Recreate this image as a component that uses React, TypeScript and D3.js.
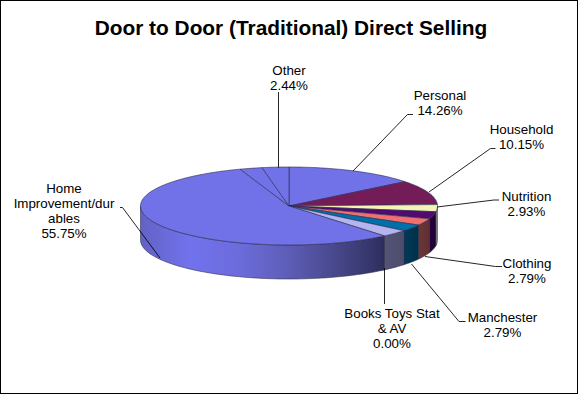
import React from "react";
import * as d3 from "d3";

const title = "Door to Door (Traditional) Direct Selling";

const sliceNames = ["Personal", "Household", "Nutrition", "Unlabelled A", "Clothing", "Manchester", "Books Toys Stat & AV", "Home Improvement/durables", "Other", "Unlabelled B"];
const sliceValues = [14.26, 10.15, 2.93, 3.0, 2.79, 2.79, 2.98, 55.75, 2.44, 2.91];
const topColors = ["#7272E8", "#741C58", "#F4F4B4", "#500A70", "#F07070", "#0070A8", "#B4B4EE", "#7272E8", "#7272E8", "#7272E8"];
const sideColors: string[][] = [
  ["#7272E8", "#7272E8"],
  ["#741C58", "#741C58"],
  ["#8A8A78", "#C8C8C8"],
  ["#2A0040", "#1E0030"],
  ["#6E3636", "#603030"],
  ["#003A58", "#003048"],
  ["#545478", "#4C4C6C"],
  ["#6262C4", "#7272EE", "#6C6CDC", "#5E5EB8", "#48488C", "#2E2E5E"],
  ["#7272E8", "#7272E8"],
  ["#7272E8", "#7272E8"],
];

const labelLines: string[][] = [
  ["Personal", "14.26%"],
  ["Household", "10.15%"],
  ["Nutrition", "2.93%"],
  ["Clothing", "2.79%"],
  ["Manchester", "2.79%"],
  ["Books Toys Stat", "& AV", "0.00%"],
  ["Home", "Improvement/dur", "ables", "55.75%"],
  ["Other", "2.44%"],
];
const labelAnchors: [number, number][] = [
  [440, 100], [521.5, 134], [526.5, 201], [527, 268], [502.5, 322], [392, 318], [64, 193], [289, 75],
];
const leaders: [number, number][][] = [
  [[413, 114.5], [407.5, 114.5], [353, 171]],
  [[495.5, 148.5], [490.5, 148.5], [429, 192]],
  [[499, 200], [494, 200], [437, 207]],
  [[502, 266.5], [495.5, 266.5], [425, 256.5]],
  [[465.5, 321.5], [459, 321.5], [411.5, 264]],
  [[384.5, 304], [384.5, 268]],
  [[120, 207.5], [122.5, 207.5], [160, 258]],
  [[278.5, 92], [278.5, 167.5]],
];

const W = 578, H = 394;
const cx = 289, cy = 206, rx = 148.5, ry = 39, depth = 34;

const pie = d3.pie<number>().sort(null).startAngle(0).endAngle(2 * Math.PI);
const arcs = pie(sliceValues);
const px = (a: number) => cx + rx * Math.sin(a);
const py = (a: number) => cy - ry * Math.cos(a);
const lineGen = d3.line();

function rim(a0: number, a1: number, dy = 0): [number, number][] {
  const n = Math.max(2, Math.ceil(Math.abs(a1 - a0) / 0.02));
  return d3.range(n + 1).map((i) => {
    const a = a0 + ((a1 - a0) * i) / n;
    return [px(a), py(a) + dy] as [number, number];
  });
}

export default function App() {
  return (
    <svg width={W} height={H} style={{ position: "absolute", left: 0, top: 0 }} fontFamily="'Liberation Sans', Arial, sans-serif">
      <defs>
        {sideColors.map((stops, i) => {
          const a0 = Math.max(arcs[i].startAngle, Math.PI / 2);
          const a1 = Math.min(arcs[i].endAngle, (3 * Math.PI) / 2);
          const x0 = a1 > a0 ? px(a1) : cx;
          const x1 = a1 > a0 ? px(a0) : cx;
          return (
            <linearGradient key={i} id={`side${i}`} gradientUnits="userSpaceOnUse" x1={x0} x2={x1} y1={0} y2={0}>
              {stops.map((c, j) => (
                <stop key={j} offset={j / (stops.length - 1)} stopColor={c} />
              ))}
            </linearGradient>
          );
        })}
      </defs>
      <rect x={0.5} y={0.5} width={W - 1} height={H - 1} fill="#fff" stroke="#000" />
      <text x={291} y={34.5} textAnchor="middle" fontSize={20.85} fontWeight="bold" fill="#000">{title}</text>

      {arcs.map((d, i) => {
        const a0 = Math.max(d.startAngle, Math.PI / 2);
        const a1 = Math.min(d.endAngle, (3 * Math.PI) / 2);
        if (a1 <= a0) return null;
        const pts = [...rim(a0, a1), ...rim(a1, a0, depth)];
        return <path key={i} d={lineGen(pts) + "Z"} fill={`url(#side${i})`} stroke="#33334a" strokeWidth={0.6} />;
      })}

      {arcs.map((d, i) => {
        const pts: [number, number][] = [[cx, cy], ...rim(d.startAngle, d.endAngle)];
        return <path key={i} d={lineGen(pts) + "Z"} fill={topColors[i]} stroke="#2a2a50" strokeWidth={0.6} strokeLinejoin="round" />;
      })}

      {leaders.map((pts, i) => (
        <path key={i} d={lineGen(pts)!} fill="none" stroke="#000" strokeWidth={1} opacity={0.85} />
      ))}

      {labelLines.map((lines, i) => (
        <text key={i} textAnchor="middle" fontSize={13.33} fill="#000">
          {lines.map((t, j) => (
            <tspan key={j} x={labelAnchors[i][0]} y={labelAnchors[i][1] + j * 15}>{t}</tspan>
          ))}
        </text>
      ))}
    </svg>
  );
}
